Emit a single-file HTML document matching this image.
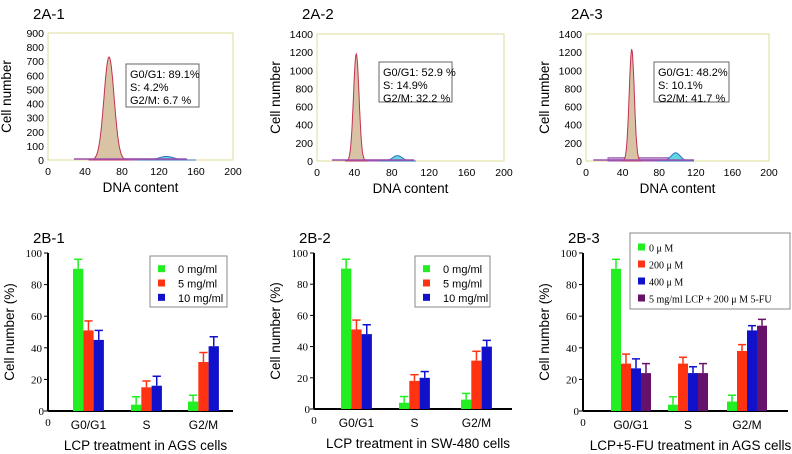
<!DOCTYPE html>
<html><head><meta charset="utf-8"><style>
body{margin:0;background:#fff;}
svg{display:block;font-family:"Liberation Sans",sans-serif;}
.s{font-family:"Liberation Serif",serif;}
</style></head><body>
<svg id="c" width="792" height="454" xmlns="http://www.w3.org/2000/svg"></svg>
<script>
const S=document.getElementById('c');const NS='http://www.w3.org/2000/svg';
function el(t,a,txt){const e=document.createElementNS(NS,t);for(const k in a)e.setAttribute(k,a[k]);if(txt!=null)e.textContent=txt;S.appendChild(e);return e;}
function txt(x,y,s,o){o=o||{};const a={x:x,y:y,'font-size':o.fs||11,fill:o.fill||'#000','text-anchor':o.a||'start'};if(o.cls)a['class']=o.cls;if(o.tr)a.transform=o.tr;return el('text',a,s);}
function hist(L,R,T,B,ymax,ystep,title,box,peaks,bx){
  txt(L-15,19,title,{fs:15});
  el('rect',{x:L,y:T,width:R-L,height:B-T,fill:'none',stroke:'#dede9a','stroke-width':1});
  for(let v=0;v<=ymax;v+=ystep){const y=B-(B-T)*v/ymax;txt(L-4,y+4,String(v),{fs:10.5,a:'end'});}
  for(let v=0;v<=200;v+=40){const x=L+(R-L)*v/200;txt(x,B+15,String(v),{fs:10.5,a:'middle'});}
  txt((L+R)/2,B+32,'DNA content',{fs:13.5,a:'middle'});
  txt(0,0,'Cell number',{fs:13.5,a:'middle',tr:`translate(${L-37},${(T+B)/2}) rotate(-90)`});
  const X=v=>L+(R-L)*v/200, Y=v=>B-(B-T)*v/ymax;
  function curve(f,a,b,fill,stroke){let d=`M${X(a)},${B}`;for(let v=a;v<=b;v+=0.5)d+=` L${X(v).toFixed(1)},${Y(f(v)).toFixed(1)}`;d+=` L${X(b)},${B} Z`;el('path',{d:d,fill:fill,stroke:stroke,'stroke-width':1});}
  const g=(m,h,s)=>v=>h*Math.exp(-((v-m)**2)/(2*s*s));
  const [p1,p2,sp]=peaks;
  curve(v=>sp.h,sp.a,sp.b,'#c9a8d8','#9a50b0');
  curve(g(...p2),p2[0]-4*p2[2],p2[0]+4*p2[2],'#60d8e0','#3070c0');
  curve(g(...p1),p1[0]-4*p1[2],p1[0]+4*p1[2],'#d8c4a4','#c03050');
  el('line',{x1:X(bx[0]),y1:B-1,x2:X(bx[1]),y2:B-1,stroke:'#a050b0','stroke-width':1.5});
  el('rect',{x:box[0],y:box[1],width:box[2]-box[0],height:box[3]-box[1],fill:'#fff',stroke:'#666'});
  box[4].forEach((s,i)=>txt(box[0]+4,box[1]+14+i*13,s,{fs:11}));
}
hist(48,233,33,160,900,100,'2A-1',[126,64,199,107,['G0/G1: 89.1%','S: 4.2%','G2/M: 6.7 %']],[[66,730,5.5],[128,25,8],{a:60,b:120,h:8}],[28,150]);
hist(317,504,34,161,1400,200,'2A-2',[379,62,452,102,['G0/G1: 52.9 %','S: 14.9%','G2/M: 32.2 %']],[[42,1180,3],[86,60,5],{a:48,b:80,h:12}],[16,104]);
hist(586,769,34,161,1400,200,'2A-3',[654,62,729,102,['G0/G1: 48.2%','S: 10.1%','G2/M: 41.7 %']],[[50,1230,2.8],[98,90,5],{a:24,b:90,h:35}],[8,118]);
const COL=['#22ee22','#ff3311','#1111cc','#66116a'];
function bars(L,R,T,B,title,xl,groups,w,leg,cls){
  txt(L-15,243,title,{fs:15});
  el('line',{x1:L,y1:T,x2:L,y2:B,stroke:'#000','stroke-width':2});
  el('line',{x1:L,y1:B,x2:R,y2:B,stroke:'#000','stroke-width':2});
  for(let v=0;v<=100;v+=20){const y=B-(B-T)*v/100;el('line',{x1:L-4,y1:y,x2:L,y2:y,stroke:'#000'});if(v>0)txt(L-6,y+4,String(v),{fs:11,a:'end',cls:'s'});}
  txt(L-4,B+4,'0',{fs:11,a:'end',cls:'s'});
  txt(L,B+15,'0',{fs:11,a:'middle',cls:'s'});
  const Y=v=>B-(B-T)*v/100;
  const names=['G0/G1','S','G2/M'];
  groups.forEach((gp,gi)=>{const [x0,vals,errs]=gp;
    vals.forEach((v,i)=>{const x=x0+i*w;
      el('line',{x1:x+w/2,y1:Y(v),x2:x+w/2,y2:Y(v+errs[i]),stroke:COL[i],'stroke-width':1.5});
      el('line',{x1:x+1,y1:Y(v+errs[i]),x2:x+w-1,y2:Y(v+errs[i]),stroke:COL[i],'stroke-width':1.5});
      el('rect',{x:x,y:Y(v),width:w,height:B-Y(v),fill:COL[i]});});
    txt(x0+vals.length*w/2,B+18,names[gi],{fs:12,a:'middle'});});
  txt((L+R)/2+5,B+39,xl,{fs:13.5,a:'middle'});
  txt(0,0,'Cell number (%)',{fs:13.5,a:'middle',tr:`translate(${L-34},${(T+B)/2}) rotate(-90)`});
  el('rect',{x:leg[0],y:leg[1],width:leg[2]-leg[0],height:leg[3]-leg[1],fill:'#fff',stroke:'#888'});
  const n=leg[4].length,sp=(leg[3]-leg[1]-8)/n;
  leg[4].forEach((s,i)=>{const y=leg[1]+6+sp*i+sp/2;el('rect',{x:leg[0]+8,y:y-4,width:7,height:7,fill:COL[i]});txt(leg[0]+(cls?19:28),y+4,s,{fs:cls?10:11,cls:cls});});
}
bars(48,233,253,411,'2B-1','LCP treatment in AGS cells',[[73,[90,51,45],[6,6,6]],[131,[4,15,16],[5,4,6]],[188,[6,31,41],[4,6,6]]],10.3,[150,256,227,307,['0 mg/ml','5 mg/ml','10 mg/ml']]);
bars(314,512,253,409,'2B-2','LCP treatment in SW-480 cells',[[341,[90,51,48],[6,6,6]],[399,[4,18,20],[4,4,4]],[461,[6,31,40],[4,6,4]]],10.3,[415,256,490,307,['0 mg/ml','5 mg/ml','10 mg/ml']]);
bars(583,788,253,411,'2B-3','LCP+5-FU treatment in AGS cells',[[611,[90,30,27,24],[6,6,6,6]],[668,[4,30,24,24],[5,4,4,6]],[727,[6,38,51,54],[4,4,3,4]]],10,[630,233,790,309,['0  μ M','200  μ M','400  μ M','5 mg/ml LCP + 200  μ M  5-FU']],'s');
</script>
</body></html>
